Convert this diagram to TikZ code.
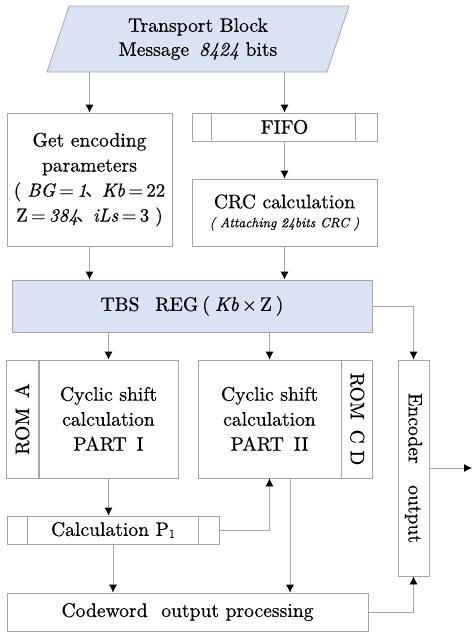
\documentclass[tikz,border=0pt]{standalone}
\usepackage{fontspec}
\setmainfont{lmroman10-regular.otf}[FakeBold=0.5, ItalicFont=lmroman10-italic.otf]
\newfontfamily\cjk{Noto Sans CJK SC}
\usetikzlibrary{arrows.meta,shapes.geometric,calc}
\definecolor{bx}{HTML}{A6A6A6}
\definecolor{fillb}{HTML}{DAE3F3}
\newcommand{\eqs}{\hspace{0.18em}=\hspace{0.18em}}
\newcommand{\cjkc}{\hspace{-0.05em}{\cjk 、}\hspace{-0.15em}}
\begin{document}
\begin{tikzpicture}[x=1pt,y=-1pt,
  box/.style={draw=bx, line width=0.8pt, inner sep=0pt, align=center,
    font=\fontsize{19.6}{25}\selectfont},
  rot/.style={font=\fontsize{19.6}{25}\selectfont, inner sep=0pt},
  arr/.style={draw=bx, line width=0.8pt, -{Latex[length=8pt,width=8pt,black]}},
  sep/.style={draw=bx, line width=0.8pt}]
\useasboundingbox[fill=white] (0,0) rectangle (474,641);
% top parallelogram
\node[box, fill=fillb, trapezium, trapezium left angle=62, trapezium right angle=118,
  trapezium stretches body, minimum width=302pt, minimum height=66pt] (tb) at (198,39)
  {Transport Block\\[-1pt]Message\enspace\textit{8424} bits};
% second row
\node[box, minimum width=165pt, minimum height=133pt] (gp) at (89.5,179.5)
  {Get encoding\\parameters\\{\fontsize{18.8}{25}\selectfont ( \textit{BG}\eqs\textit{1}\cjkc\textit{Kb}\eqs 22}\\{\fontsize{18.8}{25}\selectfont Z\eqs\textit{384}\cjkc\textit{iLs}\eqs 3 )}};
\node[box, minimum width=185pt, minimum height=28pt] (fifo) at (284.5,127) {FIFO};
\draw[sep] ($(fifo.north west)+(20,0)$) -- ($(fifo.south west)+(20,0)$);
\draw[sep] ($(fifo.north east)+(-22,0)$) -- ($(fifo.south east)+(-22,0)$);
\node[box, minimum width=185pt, minimum height=67pt] (crc) at (284.5,212.5)
  {CRC calculation\\[-6pt]{\fontsize{13.5}{14}\selectfont\itshape ( Attaching 24bits CRC )}};
% TBS REG
\node[box, fill=fillb, minimum width=360pt, minimum height=52pt] (tbs) at (192,306)
  {TBS\hspace{0.8em}REG\hspace{0.2em}(\hspace{0.25em}\textit{Kb}\hspace{0.15em}×\hspace{0.15em}Z\hspace{0.2em})};
% Part I
\node[box, minimum width=139pt, minimum height=118pt] (p1) at (108.5,419)
  {Cyclic shift\\calculation\\PART\enspace I};
\node[box, minimum width=32pt, minimum height=118pt, anchor=east] (roma) at (p1.west)
  {};
\node[rot, rotate=90] (romat) at (roma.center) {ROM\enspace A};
% Part II
\node[box, minimum width=143pt, minimum height=118pt] (p2) at (269.5,419)
  {Cyclic shift\\calculation\\PART\enspace II};
\node[box, minimum width=31pt, minimum height=118pt, anchor=west] (romcd) at (p2.east)
  {};
\node[rot, rotate=-90] (romcdt) at (romcd.center) {ROM\enspace C D};
% Encoder output
\node[box, minimum width=31pt, minimum height=216pt] (enc) at (413.5,468) {};
\node[rot, rotate=-90] (enct) at (enc.center) {Encoder\hspace{1.1em}output};
\coordinate (out) at (472,468);
% Calculation P1
\node[box, minimum width=212pt, minimum height=28pt] (calc) at (113,530)
  {Calculation P\raisebox{-2pt}{\fontsize{12}{12}\selectfont 1}};
\draw[sep] ($(calc.north west)+(21,0)$) -- ($(calc.south west)+(21,0)$);
\draw[sep] ($(calc.north east)+(-21,0)$) -- ($(calc.south east)+(-21,0)$);
% Codeword
\node[box, minimum width=361pt, minimum height=38pt] (cw) at (187.5,612)
  {Codeword\hspace{0.7em}output processing};
% connectors
\draw[arr] (tb.south -| gp.north) -- (gp.north);
\draw[arr] (tb.south -| fifo.north) -- (fifo.north);
\draw[arr] (fifo.south) -- (crc.north);
\draw[arr] (gp.south) -- (gp.south |- tbs.north);
\draw[arr] (crc.south) -- (crc.south |- tbs.north);
\draw[arr] (tbs.south -| p1.north) -- (p1.north);
\draw[arr] (tbs.south -| p2.north) -- (p2.north);
\draw[arr] (tbs.east) -| (enc.north);
\draw[arr] (p1.south) -- (p1.south |- calc.north);
\draw[arr] (calc.east) -| (p2.south);
\draw[arr] (calc.south) -- (calc.south |- cw.north);
\draw[arr] ([xshift=20.5pt]p2.south) -- ([xshift=20.5pt]p2.south |- cw.north);
\draw[arr] (cw.east) -| (enc.south);
\draw[arr] (enc.east) -- (out);
\end{tikzpicture}
\end{document}
